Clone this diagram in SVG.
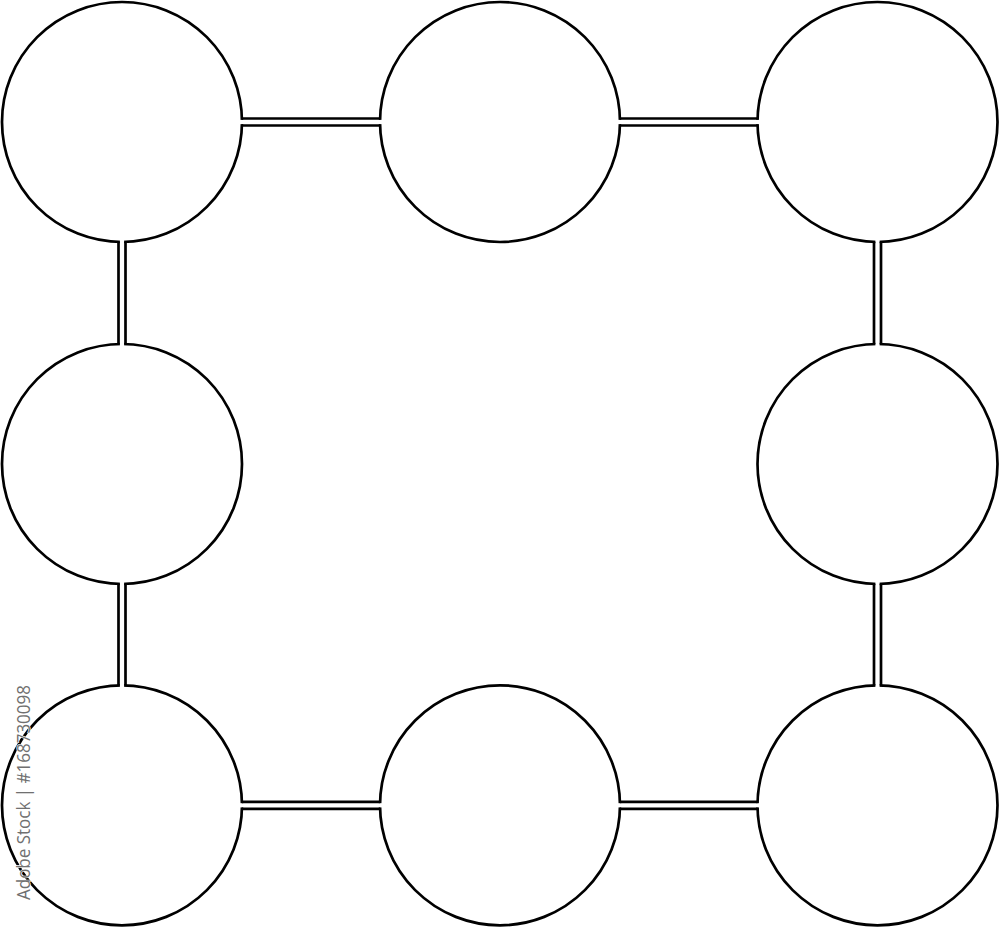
<svg xmlns="http://www.w3.org/2000/svg" width="1000" height="928" viewBox="0 0 1000 928">
<style>
.node{fill:#fff;stroke:#000;stroke-width:2.7}
.gap{fill:#fff;stroke:none}
.rail{stroke:#000;stroke-width:2.7;fill:none}
.wm{font-family:"Open Sans","Noto Sans","DejaVu Sans",sans-serif;font-size:18px;fill:#707070;stroke:#fff;stroke-width:1.2;paint-order:stroke;stroke-linejoin:round}
</style>
<rect width="1000" height="928" fill="#fff"/>
<g id="n1"><circle class="node" cx="122" cy="122" r="120"/></g>
<g id="n2"><circle class="node" cx="500" cy="122" r="120"/></g>
<g id="n3"><circle class="node" cx="877.5" cy="122" r="120"/></g>
<g id="n4"><circle class="node" cx="122" cy="464" r="120"/></g>
<g id="n5"><circle class="node" cx="877.5" cy="464" r="120"/></g>
<g id="n6"><circle class="node" cx="122" cy="805.3" r="120"/></g>
<g id="n7"><circle class="node" cx="500" cy="805.3" r="120"/></g>
<g id="n8"><circle class="node" cx="877.5" cy="805.3" r="120"/></g>
<g id="connectors">
  <rect class="gap" x="236" y="119.9" width="150" height="4.2"/>
  <line class="rail" x1="241.9" y1="118.5" x2="380.1" y2="118.5"/>
  <line class="rail" x1="241.9" y1="125.5" x2="380.1" y2="125.5"/>
  <rect class="gap" x="614" y="119.9" width="150" height="4.2"/>
  <line class="rail" x1="619.9" y1="118.5" x2="757.6" y2="118.5"/>
  <line class="rail" x1="619.9" y1="125.5" x2="757.6" y2="125.5"/>
  <rect class="gap" x="236" y="803.2" width="150" height="4.2"/>
  <line class="rail" x1="241.9" y1="801.8" x2="380.1" y2="801.8"/>
  <line class="rail" x1="241.9" y1="808.8" x2="380.1" y2="808.8"/>
  <rect class="gap" x="614" y="803.2" width="150" height="4.2"/>
  <line class="rail" x1="619.9" y1="801.8" x2="757.6" y2="801.8"/>
  <line class="rail" x1="619.9" y1="808.8" x2="757.6" y2="808.8"/>
  <rect class="gap" x="119.9" y="236" width="4.2" height="114"/>
  <line class="rail" x1="118.5" y1="241.9" x2="118.5" y2="344.1"/>
  <line class="rail" x1="125.5" y1="241.9" x2="125.5" y2="344.1"/>
  <rect class="gap" x="119.9" y="578" width="4.2" height="113"/>
  <line class="rail" x1="118.5" y1="583.9" x2="118.5" y2="685.4"/>
  <line class="rail" x1="125.5" y1="583.9" x2="125.5" y2="685.4"/>
  <rect class="gap" x="875.4" y="236" width="4.2" height="114"/>
  <line class="rail" x1="874" y1="241.9" x2="874" y2="344.1"/>
  <line class="rail" x1="881" y1="241.9" x2="881" y2="344.1"/>
  <rect class="gap" x="875.4" y="578" width="4.2" height="113"/>
  <line class="rail" x1="874" y1="583.9" x2="874" y2="685.4"/>
  <line class="rail" x1="881" y1="583.9" x2="881" y2="685.4"/>
</g>
<text class="wm" transform="translate(30,900) rotate(-90)" textLength="215" lengthAdjust="spacingAndGlyphs">Adobe Stock | #168730098</text>
</svg>
